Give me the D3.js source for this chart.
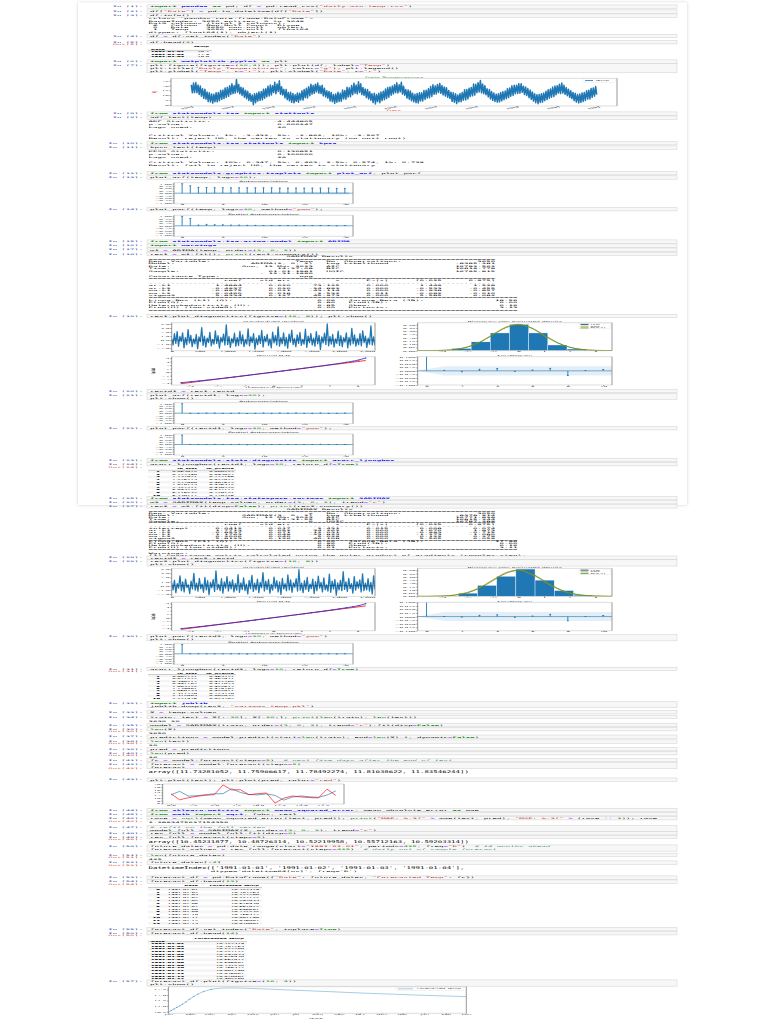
<!DOCTYPE html>
<html>
<head>
<meta charset="utf-8">
<title>Daily temperature SARIMAX notebook</title>
<script src="https://cdn.jsdelivr.net/npm/d3@7"></script>
<style>
  body { margin: 0; background: #fff; }
  svg { display: block; }
</style>
</head>
<body>
<svg id="nb" width="768" height="1024"></svg>
<script>
// ---------------- data read off the notebook ----------------
// daily minimum temperature, roughly three readings a month (high / low swing), 1981..1990
var tempStartYear = 1981;
var tempYears = [
  [20.7,12.4,22.6,12.7,23.2,12.6,20.5,10.8,19.6,8.9,16.7,6.7,16.3,5.9,13.3,3.3,12.4,2.9,11.1,1.7,10.9,3.1,12.6,3.0,12.7,4.2,15.0,5.7,15.4,6.4,17.6,7.6,18.2,8.8,19.8,10.8],
  [21.8,11.6,19.9,12.2,26.3,13.1,21.2,11.4,18.3,9.7,17.5,7.9,15.2,6.3,14.1,4.5,11.8,3.6,10.2,0.0,11.6,2.2,11.9,3.8,13.4,4.6,13.9,5.1,16.2,6.9,16.8,8.3,19.4,9.1,20.6,10.2],
  [19.8,12.9,23.4,11.5,21.7,13.8,25.1,10.9,18.8,10.2,16.1,7.2,15.9,5.4,12.8,4.1,13.0,2.5,11.7,2.0,10.4,3.6,12.2,2.7,12.1,5.0,14.6,4.9,15.8,7.3,17.1,7.0,18.9,9.5,21.3,11.1],
  [20.2,11.9,21.5,13.4,22.8,12.0,19.7,11.7,20.4,9.3,17.2,8.1,14.7,6.8,13.9,3.9,12.9,3.2,10.8,1.5,11.3,2.6,13.1,3.4,11.9,3.7,15.3,6.0,14.9,5.8,18.3,8.0,17.7,8.4,20.1,10.5],
  [22.4,12.1,20.6,11.2,23.9,12.9,21.8,10.6,18.1,9.8,16.4,7.5,16.0,6.1,13.6,4.8,11.5,2.3,11.9,0.8,10.6,3.3,12.0,2.1,13.2,4.4,14.2,5.3,16.5,6.6,17.9,7.9,18.6,9.9,19.5,11.4],
  [20.9,12.7,22.9,12.3,20.8,13.5,23.6,11.1,19.2,10.0,15.9,7.0,15.5,5.7,14.4,4.2,12.1,3.0,10.9,2.1,11.8,1.9,12.4,3.9,12.5,4.0,14.8,5.5,15.1,7.1,16.7,7.3,19.0,8.6,20.8,10.9],
  [19.5,11.3,21.2,12.8,22.3,11.9,20.1,10.3,18.6,9.1,17.8,7.7,14.9,6.5,13.1,3.6,12.6,2.7,11.4,1.2,10.2,2.9,11.7,3.2,12.9,4.7,15.6,5.0,15.9,6.2,17.3,8.5,18.1,9.3,21.6,10.1],
  [21.3,12.5,23.1,13.3,25.4,12.4,21.6,11.6,19.9,10.4,16.6,8.3,15.8,6.0,13.7,4.6,12.2,3.4,11.0,2.6,11.5,3.0,12.8,4.1,13.6,5.2,14.3,6.3,16.8,7.5,17.4,8.9,19.7,9.7,20.3,11.6],
  [20.4,11.8,22.0,12.0,21.9,13.0,19.4,10.7,18.5,9.6,16.9,7.4,15.3,5.6,13.4,3.8,11.6,2.2,10.5,1.0,10.8,2.4,11.4,2.8,12.3,4.3,14.0,5.4,15.7,6.8,16.4,7.8,18.4,8.7,19.6,10.4],
  [19.9,12.2,21.4,11.7,22.6,12.2,20.3,10.9,17.9,9.4,16.2,7.8,14.5,6.4,12.9,4.3,11.9,2.8,10.7,1.8,11.1,2.5,12.3,3.5,12.8,4.5,14.7,5.9,15.2,6.0,17.0,7.7,17.6,9.0,19.1,10.6]
];
var tempTicks = [0, 5, 10, 15, 20, 25];

// correlation plots
var acfTemp  = [1, 0.774, 0.631, 0.586, 0.578, 0.578, 0.575, 0.574, 0.567, 0.566, 0.563, 0.559, 0.555, 0.551, 0.547, 0.544, 0.540, 0.536, 0.532, 0.528, 0.524];
var acfTempBand = [0, 0.032, 0.047, 0.055, 0.061, 0.066, 0.071, 0.075, 0.079, 0.083, 0.086, 0.089, 0.092, 0.095, 0.098, 0.101, 0.103, 0.106, 0.108, 0.110, 0.112];
var pacfTemp = [1, 0.774, 0.085, 0.158, 0.113, 0.101, 0.072, 0.083, 0.049, 0.065, 0.038, 0.042, 0.031, 0.027, 0.035, 0.024, 0.041, 0.029, 0.019, 0.014, 0.026];
var acfRes1  = [1, 0.004, -0.007, 0.012, 0.016, -0.003, 0.006, 0.019, -0.033, 0.002, 0.009, -0.006, 0.011, -0.004, 0.013, 0.007, -0.010, 0.016, 0.004, -0.008, 0.012];
var pacfRes1 = [1, 0.004, -0.007, 0.012, 0.016, -0.003, 0.006, 0.019, -0.032, 0.003, 0.008, -0.005, 0.010, -0.003, 0.012, 0.006, -0.011, 0.015, 0.005, -0.007, 0.011];
var pacfRes2 = [1, 0.001, -0.004, 0.009, 0.013, -0.005, 0.004, 0.017, -0.030, 0.001, 0.007, -0.008, 0.009, -0.006, 0.011, 0.005, -0.012, 0.014, 0.003, -0.009, 0.010];
var residBand = 0.032;
var corrRes1 = [1, 0.004, -0.007, 0.012, 0.016, -0.003, 0.006, 0.019, -0.033, 0.002, 0.009];
var corrRes2 = [1, 0.001, -0.004, 0.009, 0.013, -0.005, 0.004, 0.017, -0.030, 0.001, 0.007];
var acfTicks = [-1, -0.75, -0.5, -0.25, 0, 0.25, 0.5, 0.75, 1];
var corrTicks = [-0.1, -0.075, -0.05, -0.025, 0, 0.025, 0.05, 0.075, 0.1];

// standardized residuals (sampled along the 3650 observations)
var resid1 = [0.4,-1.2,1.6,-0.8,2.1,-1.5,0.9,-0.3,1.8,-1.9,0.6,-1.1,2.6,-0.7,1.2,-1.6,0.3,-0.9,1.4,-2.1,0.8,-0.4,3.1,-1.3,1.0,-1.7,0.5,-0.6,1.9,-1.4,0.2,-1.0,2.3,-0.8,1.1,-2.0,0.7,-0.5,1.5,-1.2,3.8,-1.1,0.9,-1.8,0.4,-0.7,1.7,-1.5,0.6,-1.3,2.2,-0.9,1.3,-1.6,0.1,-1.0,2.8,-1.4,0.8,-0.6,1.6,-2.2,0.5,-1.1,1.2,-0.8,2.4,-1.7,0.9,-0.4,1.4,-1.3,0.3,-1.9,2.0,-0.7,1.1,-1.2,3.3,-1.5,0.6,-0.9,1.8,-1.4,0.7,-2.0,1.5,-0.5,2.5,-1.1,0.4,-1.6,1.3,-0.8,1.9,-1.3,0.2,-1.0,2.7,-1.8,1.0,-0.6,1.6,-1.2,0.5,-1.5,2.1,-0.9,1.2,-2.3,0.8,-0.7,1.7,-1.1,4.0,-1.4,0.9,-1.0,1.4,-1.7,0.3,-0.8,2.2,-1.3,1.1,-1.6,0.6,-0.5,1.8,-1.9,0.7,-1.2,2.9,-0.9,1.3,-1.5,0.4,-1.1,1.6,-1.4,2.3,-0.6,1.0,-1.8,0.5,-1.0,3.5,-1.2,0.8,-1.3];
var resid2 = [0.7,-1.0,1.3,-1.7,0.5,-0.6,2.4,-1.2,0.9,-1.5,1.6,-0.4,0.2,-1.9,1.1,-0.8,3.0,-1.1,0.6,-1.3,1.8,-0.7,0.4,-1.6,2.0,-1.0,1.2,-2.2,0.8,-0.5,1.5,-1.4,3.6,-0.9,0.3,-1.2,1.7,-1.8,0.9,-0.6,2.2,-1.3,1.0,-0.8,1.4,-1.5,0.5,-1.1,2.7,-1.6,0.7,-0.9,1.9,-1.2,0.4,-2.0,1.3,-0.7,2.5,-1.4,0.6,-1.0,1.6,-1.7,0.8,-0.5,3.2,-1.3,1.1,-0.9,1.5,-1.8,0.3,-1.1,2.1,-0.6,1.2,-1.5,0.9,-2.1,1.8,-0.8,0.5,-1.2,2.6,-1.0,1.4,-1.6,0.7,-0.4,1.7,-1.3,3.9,-1.1,0.6,-1.7,1.2,-0.9,2.0,-1.4,0.4,-0.7,1.6,-1.9,1.0,-1.2,2.3,-0.6,0.8,-1.5,1.9,-1.0,0.2,-1.3,2.8,-1.6,1.1,-0.8,1.5,-2.3,0.7,-1.0,1.3,-1.2,3.4,-0.9,0.9,-1.4,1.8,-0.7,0.5,-1.8,2.2,-1.1,1.0,-0.6,1.4,-1.5,2.9,-1.2,0.6,-1.0,1.7,-1.3,0.8,-2.0,2.4,-0.9];
var nObs = 3650;

// histogram plus estimated density
var histEdges1 = [-2.6, -1.85, -1.1, -0.35, 0.4, 1.15, 1.9, 2.65];
var histDens1  = [0.035, 0.136, 0.273, 0.405, 0.273, 0.088, 0.026];
var histEdges2 = [-2.35, -1.6, -0.85, -0.1, 0.65, 1.4, 2.15, 2.9];
var histDens2  = [0.05, 0.17, 0.31, 0.42, 0.25, 0.09, 0.02];
var densX   = [-4, -3.5, -3, -2.5, -2, -1.5, -1, -0.5, 0, 0.5, 1, 1.5, 2, 2.5, 3, 3.5, 4];
var normPdf = [0.0001, 0.0009, 0.0044, 0.0175, 0.054, 0.1295, 0.242, 0.352, 0.399, 0.352, 0.242, 0.1295, 0.054, 0.0175, 0.0044, 0.0009, 0.0001];
var kde1 = [0.000, 0.001, 0.005, 0.019, 0.058, 0.136, 0.251, 0.361, 0.405, 0.347, 0.233, 0.123, 0.053, 0.019, 0.006, 0.002, 0.000];
var kde2 = [0.000, 0.001, 0.006, 0.022, 0.062, 0.140, 0.255, 0.364, 0.402, 0.343, 0.230, 0.121, 0.052, 0.020, 0.007, 0.002, 0.000];

// normal Q-Q
var qqTheo = [-3.3,-2.95,-2.65,-2.4,-2.15,-1.9,-1.65,-1.4,-1.15,-0.9,-0.65,-0.4,-0.15,0.1,0.35,0.6,0.85,1.1,1.35,1.6,1.85,2.1,2.35,2.6,2.85,3.05,3.3];
var qqSample1 = [-3.02,-2.74,-2.50,-2.29,-2.07,-1.85,-1.62,-1.38,-1.14,-0.90,-0.65,-0.41,-0.16,0.09,0.34,0.60,0.85,1.11,1.37,1.64,1.91,2.19,2.48,2.79,3.12,3.45,4.02];
var qqSample2 = [-3.08,-2.79,-2.53,-2.31,-2.09,-1.86,-1.63,-1.39,-1.15,-0.91,-0.66,-0.41,-0.17,0.08,0.33,0.59,0.84,1.10,1.36,1.63,1.90,2.18,2.47,2.77,3.09,3.38,3.92];

// last 20 days: test values vs predictions
var testVals = [12.2, 14.8, 11.3, 11.6, 12.4, 13.0, 13.1, 16.7, 14.0, 12.5, 12.2, 12.9, 11.8, 8.4, 10.6, 11.4, 10.8, 10.4, 12.1, 15.1];
var predVals = [13.0, 8.6, 10.1, 11.2, 11.9, 12.4, 19.5, 15.8, 16.0, 12.3, 13.1, 13.6, 6.2, 9.8, 11.4, 10.7, 10.2, 10.0, 16.4, 11.8];
var testTicksX = [0, 2.5, 5, 7.5, 10, 12.5, 15, 17.5];
var testTicksY = [6, 8, 10, 12, 14, 16, 18, 20];

// out-of-sample forecast
var fcDates = ["1991-01-01","1991-01-05","1991-01-09","1991-01-13","1991-01-17","1991-01-21","1991-01-26","1991-01-31","1991-02-06","1991-02-12","1991-02-20","1991-03-03","1991-03-17","1991-04-01","1991-04-21","1991-05-21","1991-06-20","1991-07-20","1991-08-19","1991-09-18","1991-10-18","1991-11-17","1991-12-17","1992-01-16","1992-02-15","1992-03-01"];
var fcVals  = [10.45, 10.59, 10.73, 10.87, 11.01, 11.16, 11.37, 11.62, 11.86, 12.08, 12.30, 12.52, 12.62, 12.64, 12.61, 12.54, 12.46, 12.38, 12.30, 12.22, 12.14, 12.07, 12.00, 11.94, 11.88, 11.85];
var fcTicksY = [10.5, 11, 11.5, 12, 12.5];

// tables
var headDates = ["1981-01-01", "1981-01-02", "1981-01-03"];
var headTemps = ["20.7", "17.9", "18.8"];
var lbStat1 = ["0.063815","0.224390","1.237021","1.526213","1.547880","1.810123","2.457411","6.093225","6.116532","6.430117"];
var lbP1    = ["0.800554","0.893857","0.744166","0.822022","0.907612","0.936315","0.930425","0.637114","0.728121","0.778456"];
var lbStat2 = ["0.002141","0.071522","0.390217","0.991104","1.083425","1.139801","2.068733","5.311428","5.315803","5.521946"];
var lbP2    = ["0.963421","0.964871","0.942405","0.911023","0.955617","0.979702","0.955811","0.723728","0.805832","0.853704"];
var tableDates = ["1991-01-01","1991-01-02","1991-01-03","1991-01-04","1991-01-05","1991-01-06","1991-01-07","1991-01-08","1991-01-09","1991-01-10","1991-01-11","1991-01-12","1991-01-13","1991-01-14"];
var tableFc = ["10.452319","10.487263","10.522200","10.557122","10.592033","10.626930","10.661812","10.696681","10.731535","10.766374","10.801198","10.836007","10.870801","10.905580"];

// ---------------- notebook text ----------------
var infoOut = [
  [18.6, "<class 'pandas.core.frame.DataFrame'>"],
  [20.8, "RangeIndex: 3650 entries, 0 to 3649"],
  [23.0, "Data columns (total 2 columns):"],
  [25.2, " #   Column  Non-Null Count  Dtype  "],
  [27.4, " 0   Date    3650 non-null   object "],
  [29.6, " 1   Temp    3650 non-null   float64"],
  [31.8, "dtypes: float64(1), object(1)"]
];
var adfOut = [
  [121.7, "ADF Statistic:              -4.444805"],
  [124.5, "p-value:                     0.000247"],
  [127.3, "Lags used:                   20"],
  [135.0, "Critical Values: 1%: -3.432, 5%: -2.862, 10%: -2.567"],
  [138.0, "Result: reject H0, the series is stationary (no unit root)"]
];
var kpssOut = [
  [151.7, "KPSS Statistic:              0.130851"],
  [154.5, "p-value:                     0.100000"],
  [157.3, "Lags used:                   26"],
  [162.2, "Critical Values: 10%: 0.347, 5%: 0.463, 2.5%: 0.574, 1%: 0.739"],
  [165.2, "Result: fail to reject H0, the series is stationary"]
];
var summary1 = [
"                               SARIMAX Results                                ",
"==============================================================================",
"Dep. Variable:                   Temp   No. Observations:                 3650",
"Model:                 ARIMA(2, 0, 2)   Log Likelihood               -8385.281",
"Date:                Sun, 12 Mar 2023   AIC                          16782.562",
"Time:                        14:27:08   BIC                          16819.778",
"Sample:                    01-01-1981   HQIC                         16795.815",
"                         - 12-31-1990                                         ",
"Covariance Type:                  opg                                         ",
"==============================================================================",
"                 coef    std err          z      P>|z|      [0.025      0.975]",
"------------------------------------------------------------------------------",
"ar.L1          1.4884      0.020     73.125      0.000       1.449       1.528",
"ar.L2         -0.4937      0.020    -24.892      0.000      -0.533      -0.455",
"ma.L1         -0.8975      0.021    -43.114      0.000      -0.938      -0.857",
"ma.L2         -0.0460      0.018     -2.532      0.011      -0.082      -0.010",
"sigma2         5.8334      0.127     45.973      0.000       5.585       6.082",
"===================================================================================",
"Ljung-Box (L1) (Q):                   0.06   Jarque-Bera (JB):                18.56",
"Prob(Q):                              0.80   Prob(JB):                         0.00",
"Heteroskedasticity (H):               0.85   Skew:                             0.16",
"Prob(H) (two-sided):                  0.00   Kurtosis:                         3.13",
"==================================================================================="
];
var summary2 = [
"                               SARIMAX Results                                ",
"==============================================================================",
"Dep. Variable:                      y   No. Observations:                 3650",
"Model:               SARIMAX(3, 0, 2)   Log Likelihood               -8378.914",
"Date:                Sun, 12 Mar 2023   AIC                          16771.828",
"Time:                        14:31:55   BIC                          16815.244",
"Sample:                             0   HQIC                         16787.289",
"==============================================================================",
"                 coef    std err          z      P>|z|      [0.025      0.975]",
"------------------------------------------------------------------------------",
"intercept      0.0412      0.017      2.431      0.015       0.008       0.074",
"ar.L1          1.7713      0.052     34.262      0.000       1.670       1.873",
"ar.L2         -0.8537      0.071    -12.031      0.000      -0.993      -0.715",
"ma.L1         -1.1763      0.049    -23.823      0.000      -1.273      -1.080",
"ma.L2          0.2006      0.040      5.029      0.000       0.122       0.279",
"sigma2         5.8123      0.126     46.108      0.000       5.565       6.059",
"===================================================================================",
"Ljung-Box (L1) (Q):                   0.00   Jarque-Bera (JB):                17.96",
"Prob(Q):                              0.96   Prob(JB):                         0.00",
"Heteroskedasticity (H):               0.86   Skew:                             0.16",
"Prob(H) (two-sided):                  0.01   Kurtosis:                         3.11",
"===================================================================================",
"",
"Warnings:",
"[1] Covariance matrix calculated using the outer product of gradients (complex-step)."
];

var cells = [
  {y: 6.7,   code: ['import pandas as pd; df = pd.read_csv("daily-min-temp.csv")']},
  {y: 11.7,  code: ['df["Date"] = pd.to_datetime(df["Date"])']},
  {y: 15.7,  code: ['df.info()'], text: infoOut},
  {y: 36,    code: ['df = df.set_index("Date")']},
  {y: 42.3,  code: ['df.head(3)'], out: 44.5},
  {y: 61.7,  code: ['import matplotlib.pyplot as plt']},
  {y: 65.5,  code: ['plt.figure(figsize=(20,4)); plt.plot(df, label="Temp")',
                    'plt.title("Daily Temperatures", color="g"); plt.legend()',
                    'plt.ylabel("Temp", c="r"); plt.xlabel("Date", c="r")']},
  {y: 113.7, code: ['from statsmodels.tsa import stattools']},
  {y: 117.7, code: ['adf_test(temp)'], text: adfOut},
  {y: 143.3, code: ['from statsmodels.tsa.stattools import kpss']},
  {y: 147.7, code: ['kpss_test(temp)'], text: kpssOut},
  {y: 173.3, code: ['from statsmodels.graphics.tsaplots import plot_acf, plot_pacf']},
  {y: 177.6, code: ['plot_acf(temp, lags=20);']},
  {y: 209.3, code: ['plot_pacf(temp, lags=20, method="ywm");']},
  {y: 241.7, code: ['from statsmodels.tsa.arima.model import ARIMA']},
  {y: 245.7, code: ['import warnings']},
  {y: 249.8, code: ['m1 = ARIMA(temp, order=(2, 0, 2))']},
  {y: 253.9, code: ['res1 = m1.fit(); print(res1.summary())'], block: {y0: 256.4, dy: 2.43, lines: summary1}},
  {y: 316,   code: ['res1.plot_diagnostics(figsize=(16, 8)); plt.show()']},
  {y: 391,   code: ['resid1 = res1.resid']},
  {y: 395,   code: ['plot_acf(resid1, lags=20);', 'plt.show()']},
  {y: 428.3, code: ['plot_pacf(resid1, lags=20, method="ywm");']},
  {y: 460,   code: ['from statsmodels.stats.diagnostic import acorr_ljungbox']},
  {y: 464.3, code: ['acorr_ljungbox(resid1, lags=10, return_df=True)'], out: 467},
  {y: 498.3, code: ['from statsmodels.tsa.statespace.sarimax import SARIMAX']},
  {y: 502.3, code: ['m2 = SARIMAX(temp.values, order=(3, 0, 2), trend="c")']},
  {y: 506.5, code: ['res2 = m2.fit(disp=False); print(res2.summary())'], block: {y0: 509.4, dy: 1.9, lines: summary2}},
  {y: 557.8, code: ['resid2 = res2.resid']},
  {y: 561.6, code: ['res2.plot_diagnostics(figsize=(16, 8))', 'plt.show()']},
  {y: 636.4, code: ['plot_pacf(resid2, lags=20, method="ywm")', 'plt.show()']},
  {y: 669,   code: ['acorr_ljungbox(resid2, lags=10, return_df=True)'], out: 671.3},
  {y: 703.3, code: ['import joblib', 'joblib.dump(res2, "sarimax_temp.pkl")']},
  {y: 712.3, code: ['X = temp.values']},
  {y: 717,   code: ['train, test = X[:-20], X[-20:]; print(len(train), len(test))'], text: [[721, "3630 20"]]},
  {y: 725,   code: ['model = SARIMAX(train, order=(3, 0, 2), trend="c").fit(disp=False)']},
  {y: 729.3, code: ['len(X)'], out: 731.5, text: [[733.1, "3650"]]},
  {y: 736.8, code: ['predictions = model.predict(start=len(train), end=len(X)-1, dynamic=False)']},
  {y: 741.7, code: ['len(test)'], out: 743.8, text: [[745.4, "20"]]},
  {y: 749.3, code: ['pred = predictions']},
  {y: 753.3, code: ['len(pred)'], out: 755.5, text: [[757.1, "20"]]},
  {y: 760.2, code: ['fc = model.forecast(steps=5)  # next five days after the end of test']},
  {y: 764.3, code: ['forecast = model.forecast(steps=5)', 'forecast'], out: 768.6,
   text: [[771.6, "array([11.73281052, 11.75906617, 11.78492274, 11.81038622, 11.83546244])", true]]},
  {y: 779.8, code: ['plt.plot(test); plt.plot(pred, color="red")']},
  {y: 810,   code: ['from sklearn.metrics import mean_squared_error, mean_absolute_error as mae']},
  {y: 814.3, code: ['from math import sqrt, fabs, ceil']},
  {y: 818.3, code: ['rmse = sqrt(mean_squared_error(test, pred)); print("MAE: %.3f" % mae(test, pred), "MSE: %.3f" % (rmse ** 2)); rmse'],
   out: 820.9, text: [[822.6, "2.2893475627154356"]]},
  {y: 827.3, code: ['# refit on the full series', 'model_full = SARIMAX(X, order=(3, 0, 2), trend="c")']},
  {y: 833.4, code: ['res_full = model_full.fit(disp=0)']},
  {y: 837.0, code: ['res_full.forecast(steps=5)'], out: 839.0,
   text: [[841.8, "array([10.45231877, 10.48726314, 10.52219958, 10.55712163, 10.59203314])", true]]},
  {y: 846.7, code: ['future_dates = pd.date_range(start="1991-01-01", periods=425, freq="D")  # 14 months ahead',
                    'forecast_values = res_full.forecast(steps=425)  # daily out-of-sample forecast']},
  {y: 855,   code: ['len(future_dates)'], out: 857.4, text: [[859, "425"]]},
  {y: 862.7, code: ['future_dates[:4]'], out: 865,
   text: [[867.9, "DatetimeIndex(['1991-01-01', '1991-01-02', '1991-01-03', '1991-01-04'],", true],
          [870.8, "              dtype='datetime64[ns]', freq='D')"]]},
  {y: 877.7, code: ['forecast_df = pd.DataFrame({"Date": future_dates, "Forecasted Temp": fc})']},
  {y: 881.7, code: ['forecast_df.head(13)'], out: 884},
  {y: 929.3, code: ['forecast_df.set_index("Date", inplace=True)']},
  {y: 933.3, code: ['forecast_df.head(14)'], out: 935.7},
  {y: 981.7, code: ['forecast_df.plot(figsize=(16, 4))', 'plt.show()']}
];

// ---------------- drawing helpers ----------------
var BLUE = "#1f77b4", ORANGE = "#ff7f0e", GREEN = "#2ca02c";
var SY = 0.27;               // the page is squeezed vertically much more than horizontally
var LH = 2.85;               // code line height
var MONO = "'DejaVu Sans Mono', 'Liberation Mono', monospace";
var SANS = "'DejaVu Sans', 'Liberation Sans', sans-serif";
var KEYWORDS = ["import", "from", "as", "def", "return", "for", "in", "if", "else", "lambda", "True", "False", "None", "and", "or", "not"];
var BUILTINS = ["print", "len", "range", "open", "sqrt"];

var svg = d3.select("#nb");
var defs = svg.append("defs");
var clipCount = 0;

function txt(g, x, y, s, o) {
  o = o || {};
  var t = g.append("text")
    .attr("transform", "translate(" + x + "," + y + ") scale(1," + (o.sy || SY) + ")" + (o.rot ? " rotate(" + o.rot + ")" : ""))
    .attr("font-family", o.font || MONO)
    .attr("font-size", o.size || 7.4)
    .attr("fill", o.color || "#000")
    .attr("text-anchor", o.anchor || "start")
    .attr("dy", "0.35em")
    .style("white-space", "pre")
    .text(s);
  if (o.weight) t.attr("font-weight", o.weight);
  return t;
}

function codeText(x, y, src) {
  var t = svg.append("text")
    .attr("transform", "translate(" + x + "," + y + ") scale(1," + SY + ")")
    .attr("font-family", MONO).attr("font-size", 7.4).attr("dy", "0.35em")
    .style("white-space", "pre");
  var re = /"[^"]*"|'[^']*'|#.*$|\d+\.?\d*|[A-Za-z_][\w.]*|\s+|./g;
  var m, prev = "";
  while ((m = re.exec(src)) !== null) {
    var tok = m[0], fill = "#000", bold = false, ital = false;
    if (tok[0] === '"' || tok[0] === "'") fill = "#BA2121";
    else if (tok[0] === "#") { fill = "#408080"; ital = true; }
    else if (/^\d/.test(tok)) fill = "#008800";
    else if (KEYWORDS.indexOf(tok) >= 0) { fill = "#008000"; bold = true; }
    else if (prev === "import" || prev === "from") { fill = "#0000FF"; bold = true; }
    else if (BUILTINS.indexOf(tok) >= 0) fill = "#008000";
    else if (/^[=+\-*\/%<>]$/.test(tok)) fill = "#AA22FF";
    var ts = t.append("tspan").attr("fill", fill).text(tok);
    if (bold) ts.attr("font-weight", "bold");
    if (ital) ts.attr("font-style", "italic");
    if (/\S/.test(tok)) prev = tok;
  }
}

function drawCell(c, n) {
  svg.append("rect")
    .attr("x", 147).attr("y", c.y - 1.8)
    .attr("width", 530).attr("height", 3.4 + (c.code.length - 1) * LH)
    .attr("fill", "#f7f7f7").attr("stroke", "#cfcfcf").attr("stroke-width", 0.5);
  txt(svg, 143, c.y, "In [" + n + "]:", {anchor: "end", color: "#303F9F", size: 7.2});
  c.code.forEach(function (line, i) { codeText(150, c.y + i * LH, line); });
  if (c.out) txt(svg, 143, c.out, "Out[" + n + "]:", {anchor: "end", color: "#D84315", size: 7.2});
  if (c.text) c.text.forEach(function (r) {
    txt(svg, 148.5, r[0], r[1], r[2] ? {sy: 0.5} : {});
  });
  if (c.block) c.block.lines.forEach(function (s, i) {
    txt(svg, 148.5, c.block.y0 + i * c.block.dy, s);
  });
}

function frame(box) {
  var id = "clip" + (clipCount++);
  defs.append("clipPath").attr("id", id).append("rect")
    .attr("x", box.x0).attr("y", box.y0).attr("width", box.x1 - box.x0).attr("height", box.y1 - box.y0);
  var g = svg.append("g");
  g.append("rect").attr("x", box.x0).attr("y", box.y0).attr("width", box.x1 - box.x0).attr("height", box.y1 - box.y0).attr("fill", "#fff");
  return {g: g, inner: g.append("g").attr("clip-path", "url(#" + id + ")")};
}

function spines(g, box) {
  [[box.x0, box.y0, box.x1, box.y0], [box.x0, box.y1, box.x1, box.y1]].forEach(function (l) {
    g.append("line").attr("x1", l[0]).attr("y1", l[1]).attr("x2", l[2]).attr("y2", l[3]).attr("stroke", "#b5b5b5").attr("stroke-width", 0.45);
  });
  [[box.x0, box.y0, box.x0, box.y1], [box.x1, box.y0, box.x1, box.y1]].forEach(function (l) {
    g.append("line").attr("x1", l[0]).attr("y1", l[1]).attr("x2", l[2]).attr("y2", l[3]).attr("stroke", "#8c8c8c").attr("stroke-width", 0.9);
  });
}

function tidyAxis(ga, o) {
  ga.attr("font-size", null).attr("font-family", null);
  ga.select(".domain").remove();
  ga.selectAll(".tick line").attr("stroke", "#333").attr("stroke-width", 0.4);
  var t = ga.selectAll(".tick text")
    .attr("font-family", SANS).attr("font-size", o.size || 5.6).attr("fill", "#333")
    .attr("transform", "scale(1," + SY + ")" + (o.rot ? " rotate(" + o.rot + ")" : ""));
  if (o.rot) t.attr("text-anchor", "end");
}

function bottomAxis(g, box, scale, o) {
  var a = d3.axisBottom(scale).tickSize(1.2).tickPadding(0.6);
  if (o.values) a.tickValues(o.values);
  if (o.format) a.tickFormat(o.format);
  tidyAxis(g.append("g").attr("transform", "translate(0," + box.y1 + ")").call(a), o);
}

function leftAxis(g, box, scale, o) {
  var a = d3.axisLeft(scale).tickSize(1.5).tickPadding(0.7);
  if (o.values) a.tickValues(o.values);
  if (o.format) a.tickFormat(o.format);
  tidyAxis(g.append("g").attr("transform", "translate(" + box.x0 + ",0)").call(a), o);
}

function title(g, box, s, size, color) {
  txt(g, (box.x0 + box.x1) / 2, box.y0 - 1.2, s, {font: SANS, size: size || 5.6, anchor: "middle", color: color || "#222"});
}

// ---------------- charts ----------------
function tempChart() {
  var box = {x0: 171, x1: 617, y0: 78.3, y1: 106};
  var pts = [];
  tempYears.forEach(function (row, k) {
    row.forEach(function (v, i) { pts.push({d: new Date(tempStartYear + k, 0, 1 + Math.round(i * 365 / 36)), v: v}); });
  });
  var de = d3.extent(pts, function (p) { return p.d; }), dp = (de[1] - de[0]) * 0.05;
  var x = d3.scaleTime().domain([new Date(+de[0] - dp), new Date(+de[1] + dp)]).range([box.x0, box.x1]);
  var ve = d3.extent(pts, function (p) { return p.v; }), vp = (ve[1] - ve[0]) * 0.05;
  var y = d3.scaleLinear().domain([ve[0] - vp, ve[1] + vp]).range([box.y1, box.y0]);
  var f = frame(box);
  f.inner.append("path").datum(pts)
    .attr("d", d3.line().x(function (p) { return x(p.d); }).y(function (p) { return y(p.v); }))
    .attr("fill", "none").attr("stroke", BLUE).attr("stroke-width", 1.5).attr("stroke-linejoin", "round");
  spines(f.g, box);
  bottomAxis(f.g, box, x, {values: d3.timeYear.range(new Date(1981, 0, 1), new Date(1991, 0, 2)), format: d3.timeFormat("%Y"), rot: -30});
  leftAxis(f.g, box, y, {values: tempTicks});
  title(f.g, box, "Daily Temperatures", 6.0, "#008000");
  txt(f.g, 153.5, (box.y0 + box.y1) / 2, "Temp", {font: SANS, size: 6, color: "#e00000", anchor: "middle", rot: -90, sy: 0.15});
  txt(f.g, (box.x0 + box.x1) / 2, 110.4, "Date", {font: SANS, size: 6, color: "#e00000", anchor: "middle"});
  // legend
  f.g.append("rect").attr("x", 583).attr("y", 78.9).attr("width", 32).attr("height", 3.2).attr("fill", "#fff").attr("stroke", "#d6d6d6").attr("stroke-width", 0.3);
  f.g.append("line").attr("x1", 585).attr("x2", 593).attr("y1", 80.5).attr("y2", 80.5).attr("stroke", BLUE).attr("stroke-width", 0.8);
  txt(f.g, 595, 80.5, "Temp", {font: SANS, size: 5.2, color: "#333"});
}

function stemPlot(box, vals, band, o) {
  var f = frame(box);
  var x = d3.scaleLinear().domain(o.xdom).range([box.x0, box.x1]);
  var y = d3.scaleLinear().domain(o.ydom).range([box.y1, box.y0]);
  var last = vals.length - 1;
  var lags = d3.range(vals.length);
  var half = function (i) { return Array.isArray(band) ? band[i] : (i === 0 ? 0 : band); };
  var bx = function (i) { return x(i === 0 ? -0.5 : i === last ? last + 0.5 : i); };
  f.inner.append("path")
    .attr("d", d3.area().x(bx).y0(function (i) { return y(-half(i)); }).y1(function (i) { return y(half(i)); })(lags))
    .attr("fill", BLUE).attr("fill-opacity", o.bandOpacity || 0.25);
  f.inner.append("line").attr("x1", box.x0).attr("x2", box.x1).attr("y1", y(0)).attr("y2", y(0)).attr("stroke", BLUE).attr("stroke-width", 0.6);
  f.inner.selectAll(null).data(vals).enter().append("line")
    .attr("x1", function (d, i) { return x(i); }).attr("x2", function (d, i) { return x(i); })
    .attr("y1", y(0)).attr("y2", function (d) { return y(d); })
    .attr("stroke", BLUE).attr("stroke-width", 0.9);
  f.inner.selectAll(null).data(vals).enter().append("ellipse")
    .attr("cx", function (d, i) { return x(i); }).attr("cy", function (d) { return y(d); })
    .attr("rx", 1.1).attr("ry", 0.5).attr("fill", BLUE);
  spines(f.g, box);
  bottomAxis(f.g, box, x, {values: o.xticks});
  leftAxis(f.g, box, y, {values: o.yticks, format: d3.format(o.yfmt)});
  title(f.g, box, o.title, o.tsize || 6.4);
}

function acfPlot(top, vals, band, name) {
  stemPlot({x0: 174, x1: 353, y0: top, y1: top + 21}, vals, band,
    {xdom: [-1, vals.length], ydom: [-1.1, 1.1], xticks: [0, 5, 10, 15, 20], yticks: acfTicks, yfmt: ".2f", title: name});
}

function residPanel(box, vals) {
  var f = frame(box);
  var x = d3.scaleLinear().domain([0, nObs - 1]).range([box.x0, box.x1]);
  var step = (nObs - 1) / (vals.length - 1);
  var ve = d3.extent(vals), vp = (ve[1] - ve[0]) * 0.05;
  var y = d3.scaleLinear().domain([ve[0] - vp, ve[1] + vp]).range([box.y1, box.y0]);
  f.inner.append("path").datum(vals)
    .attr("d", d3.line().x(function (d, i) { return x(i * step); }).y(function (d) { return y(d); }))
    .attr("fill", "none").attr("stroke", BLUE).attr("stroke-width", 1.3).attr("stroke-linejoin", "round");
  f.inner.append("line").attr("x1", box.x0).attr("x2", box.x1).attr("y1", y(0)).attr("y2", y(0)).attr("stroke", "#000").attr("stroke-opacity", 0.5).attr("stroke-width", 0.5);
  spines(f.g, box);
  bottomAxis(f.g, box, x, {values: d3.range(0, nObs, 500)});
  leftAxis(f.g, box, y, {values: y.ticks(7)});
  title(f.g, box, "Standardized residual");
}

function histPanel(box, edges, dens, kde) {
  var f = frame(box);
  var x = d3.scaleLinear().domain([-3.94, 3.66]).range([box.x0, box.x1]);
  var y = d3.scaleLinear().domain([0, 0.43]).range([box.y1, box.y0]);
  f.inner.selectAll(null).data(dens).enter().append("rect")
    .attr("x", function (d, i) { return x(edges[i]); })
    .attr("width", function (d, i) { return x(edges[i + 1]) - x(edges[i]); })
    .attr("y", function (d) { return y(d); })
    .attr("height", function (d) { return y(0) - y(d); })
    .attr("fill", BLUE).attr("stroke", "#fff").attr("stroke-width", 0.4);
  var curve = d3.line().x(function (d, i) { return x(densX[i]); }).y(function (d) { return y(d); }).curve(d3.curveMonotoneX);
  f.inner.append("path").attr("d", curve(kde)).attr("fill", "none").attr("stroke", ORANGE).attr("stroke-width", 0.8);
  f.inner.append("path").attr("d", curve(normPdf)).attr("fill", "none").attr("stroke", GREEN).attr("stroke-width", 0.8);
  spines(f.g, box);
  bottomAxis(f.g, box, x, {values: [-3, -2, -1, 0, 1, 2, 3]});
  leftAxis(f.g, box, y, {values: [0, 0.05, 0.1, 0.15, 0.2, 0.25, 0.3, 0.35, 0.4], format: d3.format(".2f")});
  title(f.g, box, "Histogram plus estimated density");
  // legend
  var lx = box.x1 - 33, ly = box.y0 + 0.6;
  f.g.append("rect").attr("x", lx).attr("y", ly).attr("width", 31.5).attr("height", 5.6).attr("fill", "#fff").attr("stroke", "#d6d6d6").attr("stroke-width", 0.3);
  f.g.append("rect").attr("x", lx + 1.5).attr("y", ly + 0.6).attr("width", 8).attr("height", 1.1).attr("fill", BLUE);
  f.g.append("line").attr("x1", lx + 1.5).attr("x2", lx + 9.5).attr("y1", ly + 2.9).attr("y2", ly + 2.9).attr("stroke", ORANGE).attr("stroke-width", 0.8);
  f.g.append("line").attr("x1", lx + 1.5).attr("x2", lx + 9.5).attr("y1", ly + 4.6).attr("y2", ly + 4.6).attr("stroke", GREEN).attr("stroke-width", 0.8);
  txt(f.g, lx + 11.5, ly + 1.15, "Hist", {font: SANS, size: 4.8, color: "#333"});
  txt(f.g, lx + 11.5, ly + 2.9, "KDE", {font: SANS, size: 4.8, color: "#333"});
  txt(f.g, lx + 11.5, ly + 4.6, "N(0,1)", {font: SANS, size: 4.8, color: "#333"});
}

function qqPanel(box, theo, samp) {
  var f = frame(box);
  var te = d3.extent(theo), tp = (te[1] - te[0]) * 0.05;
  var x = d3.scaleLinear().domain([te[0] - tp, te[1] + tp]).range([box.x0, box.x1]);
  var se = d3.extent(samp.concat(te)), sp = (se[1] - se[0]) * 0.05;
  var y = d3.scaleLinear().domain([se[0] - sp, se[1] + sp]).range([box.y1, box.y0]);
  f.inner.append("line").attr("x1", x(te[0])).attr("y1", y(te[0])).attr("x2", x(te[1])).attr("y2", y(te[1])).attr("stroke", "#ff2020").attr("stroke-width", 0.9);
  f.inner.append("path").datum(samp)
    .attr("d", d3.line().x(function (d, i) { return x(theo[i]); }).y(function (d) { return y(d); }))
    .attr("fill", "none").attr("stroke", "#2a2ad0").attr("stroke-width", 0.8);
  f.inner.selectAll(null).data(samp).enter().append("ellipse")
    .attr("cx", function (d, i) { return x(theo[i]); }).attr("cy", function (d) { return y(d); })
    .attr("rx", 1.0).attr("ry", 0.45).attr("fill", "#2a2ad0");
  spines(f.g, box);
  bottomAxis(f.g, box, x, {values: [-3, -2, -1, 0, 1, 2, 3]});
  leftAxis(f.g, box, y, {values: [-3, -2, -1, 0, 1, 2, 3, 4]});
  title(f.g, box, "Normal Q-Q");
  txt(f.g, (box.x0 + box.x1) / 2, box.y1 + 2.9, "Theoretical Quantiles", {font: SANS, size: 5.4, anchor: "middle", color: "#222"});
  txt(f.g, 153.5, (box.y0 + box.y1) / 2, "Sample Quantiles", {font: SANS, size: 5.4, anchor: "middle", color: "#222", rot: -90, sy: 0.13});
}

function diagnostics(top, resid, edges, dens, kde, samp, corr) {
  residPanel({x0: 171.7, x1: 375, y0: top, y1: top + 28}, resid);
  histPanel({x0: 417.7, x1: 612, y0: top, y1: top + 28}, edges, dens, kde);
  qqPanel({x0: 171.7, x1: 375, y0: top + 34, y1: top + 62.3}, qqTheo, samp);
  stemPlot({x0: 417.7, x1: 612, y0: top + 34, y1: top + 62.3}, corr, residBand,
    {xdom: [-0.5, 10.5], ydom: [-0.1, 0.1], xticks: [0, 2, 4, 6, 8, 10], yticks: corrTicks, yfmt: ".3f", title: "Correlogram", tsize: 5.6, bandOpacity: 0.12});
}

function testChart() {
  var box = {x0: 162.7, x1: 344, y0: 784, y1: 804};
  var f = frame(box);
  var n = testVals.length;
  var x = d3.scaleLinear().domain([-0.05 * (n - 1), 1.05 * (n - 1)]).range([box.x0, box.x1]);
  var all = testVals.concat(predVals), e = d3.extent(all), p = (e[1] - e[0]) * 0.05;
  var y = d3.scaleLinear().domain([e[0] - p, e[1] + p]).range([box.y1, box.y0]);
  var line = d3.line().x(function (d, i) { return x(i); }).y(function (d) { return y(d); });
  f.inner.append("path").attr("d", line(testVals)).attr("fill", "none").attr("stroke", BLUE).attr("stroke-opacity", 0.65).attr("stroke-width", 1.0);
  f.inner.append("path").attr("d", line(predVals)).attr("fill", "none").attr("stroke", "#ff0000").attr("stroke-opacity", 0.65).attr("stroke-width", 1.0);
  spines(f.g, box);
  bottomAxis(f.g, box, x, {values: testTicksX, format: d3.format(".1f")});
  leftAxis(f.g, box, y, {values: testTicksY});
}

function forecastChart() {
  var box = {x0: 168.4, x1: 466.3, y0: 986.7, y1: 1013.3};
  var f = frame(box);
  var parse = d3.timeParse("%Y-%m-%d");
  var dates = fcDates.map(parse);
  var x = d3.scaleTime().domain(d3.extent(dates)).range([box.x0, box.x1]);
  var e = d3.extent(fcVals), p = (e[1] - e[0]) * 0.05;
  var y = d3.scaleLinear().domain([e[0] - p, e[1] + p]).range([box.y1, box.y0]);
  f.inner.append("path").datum(fcVals)
    .attr("d", d3.line().x(function (d, i) { return x(dates[i]); }).y(function (d) { return y(d); }))
    .attr("fill", "none").attr("stroke", "#8fbfe0").attr("stroke-width", 0.8);
  f.inner.selectAll(null).data(fcVals.slice(0, 12)).enter().append("ellipse")
    .attr("cx", function (d, i) { return x(dates[i]); }).attr("cy", function (d) { return y(d); })
    .attr("rx", 0.9).attr("ry", 0.45).attr("fill", BLUE).attr("fill-opacity", 0.8);
  spines(f.g, box);
  bottomAxis(f.g, box, x, {values: d3.timeMonth.range(dates[0], new Date(+dates[dates.length - 1] + 1)), format: d3.timeFormat("%b")});
  leftAxis(f.g, box, y, {values: fcTicksY, format: d3.format(".1f")});
  txt(f.g, 316, 1018.4, "Date", {font: SANS, size: 5.6, anchor: "middle", color: "#222"});
  f.g.append("rect").attr("x", 396).attr("y", 987.2).attr("width", 69.5).attr("height", 3.2).attr("fill", "#fff").attr("stroke", "#d6d6d6").attr("stroke-width", 0.3);
  f.g.append("line").attr("x1", 398).attr("x2", 413).attr("y1", 988.8).attr("y2", 988.8).attr("stroke", "#8fbfe0").attr("stroke-width", 0.8);
  txt(f.g, 417, 988.8, "Forecasted Temp", {font: SANS, size: 5.2, color: "#333"});
}

function table(x0, x1, cols, head, headY, rowY0, step, rows) {
  head.forEach(function (r, i) {
    r.forEach(function (s, j) {
      if (s) txt(svg, cols[j].x, headY + i * step, s, {font: SANS, size: 5.2, anchor: cols[j].a, weight: "bold"});
    });
  });
  svg.append("line").attr("x1", x0).attr("x2", x1)
    .attr("y1", rowY0 - step * 0.55).attr("y2", rowY0 - step * 0.55)
    .attr("stroke", "#000").attr("stroke-width", 0.3);
  rows.forEach(function (r, i) {
    var yy = rowY0 + i * step;
    if (i % 2 === 0) svg.append("rect").attr("x", x0).attr("y", yy - step / 2).attr("width", x1 - x0).attr("height", step).attr("fill", "#f5f5f5");
    r.forEach(function (s, j) {
      txt(svg, cols[j].x, yy, s, {font: SANS, size: 5.2, anchor: cols[j].a, weight: j === 0 ? "bold" : null});
    });
  });
}

// ---------------- page ----------------
var shadow = defs.append("filter").attr("id", "shadow").attr("x", "-5%").attr("y", "-5%").attr("width", "110%").attr("height", "110%");
shadow.append("feDropShadow").attr("dx", 0).attr("dy", 0).attr("stdDeviation", 1.4).attr("flood-color", "#575757").attr("flood-opacity", 0.3);
svg.append("rect").attr("x", 0).attr("y", 0).attr("width", 768).attr("height", 1024).attr("fill", "#fff");
svg.append("rect").attr("x", 78).attr("y", 2.5).attr("width", 609).attr("height", 502.5).attr("fill", "#fff").attr("filter", "url(#shadow)");

cells.forEach(function (c, i) { drawCell(c, i + 1); });

tempChart();
acfPlot(182.7, acfTemp, acfTempBand, "Autocorrelation");
acfPlot(215.3, pacfTemp, residBand, "Partial Autocorrelation");
diagnostics(322.7, resid1, histEdges1, histDens1, kde1, qqSample1, corrRes1);
acfPlot(402.7, acfRes1, residBand, "Autocorrelation");
acfPlot(434, pacfRes1, residBand, "Partial Autocorrelation");
diagnostics(568.4, resid2, histEdges2, histDens2, kde2, qqSample2, corrRes2);
acfPlot(643.3, pacfRes2, residBand, "Partial Autocorrelation");
testChart();
forecastChart();

table(148, 212, [{x: 151, a: "start"}, {x: 209, a: "end"}], [["", "Temp"], ["Date", ""]], 46.7, 51.8, 2.5,
  headDates.map(function (d, i) { return [d, headTemps[i]]; }));
table(148, 236, [{x: 160, a: "end"}, {x: 197, a: "end"}, {x: 234, a: "end"}], [["", "lb_stat", "lb_pvalue"]], 469, 471.8, 2.6,
  lbStat1.map(function (s, i) { return [String(i + 1), s, lbP1[i]]; }));
table(148, 236, [{x: 160, a: "end"}, {x: 197, a: "end"}, {x: 234, a: "end"}], [["", "lb_stat", "lb_pvalue"]], 673.3, 676.1, 2.48,
  lbStat2.map(function (s, i) { return [String(i + 1), s, lbP2[i]]; }));
table(148, 262, [{x: 160, a: "end"}, {x: 198, a: "end"}, {x: 259, a: "end"}], [["", "Date", "Forecasted Temp"]], 886, 889.3, 2.83,
  tableDates.slice(0, 13).map(function (d, i) { return [String(i), d, tableFc[i]]; }));
table(148, 247, [{x: 151, a: "start"}, {x: 244, a: "end"}], [["", "Forecasted Temp"], ["Date", ""]], 938.3, 943.4, 2.72,
  tableDates.map(function (d, i) { return [d, tableFc[i]]; }));
</script>
</body>
</html>
